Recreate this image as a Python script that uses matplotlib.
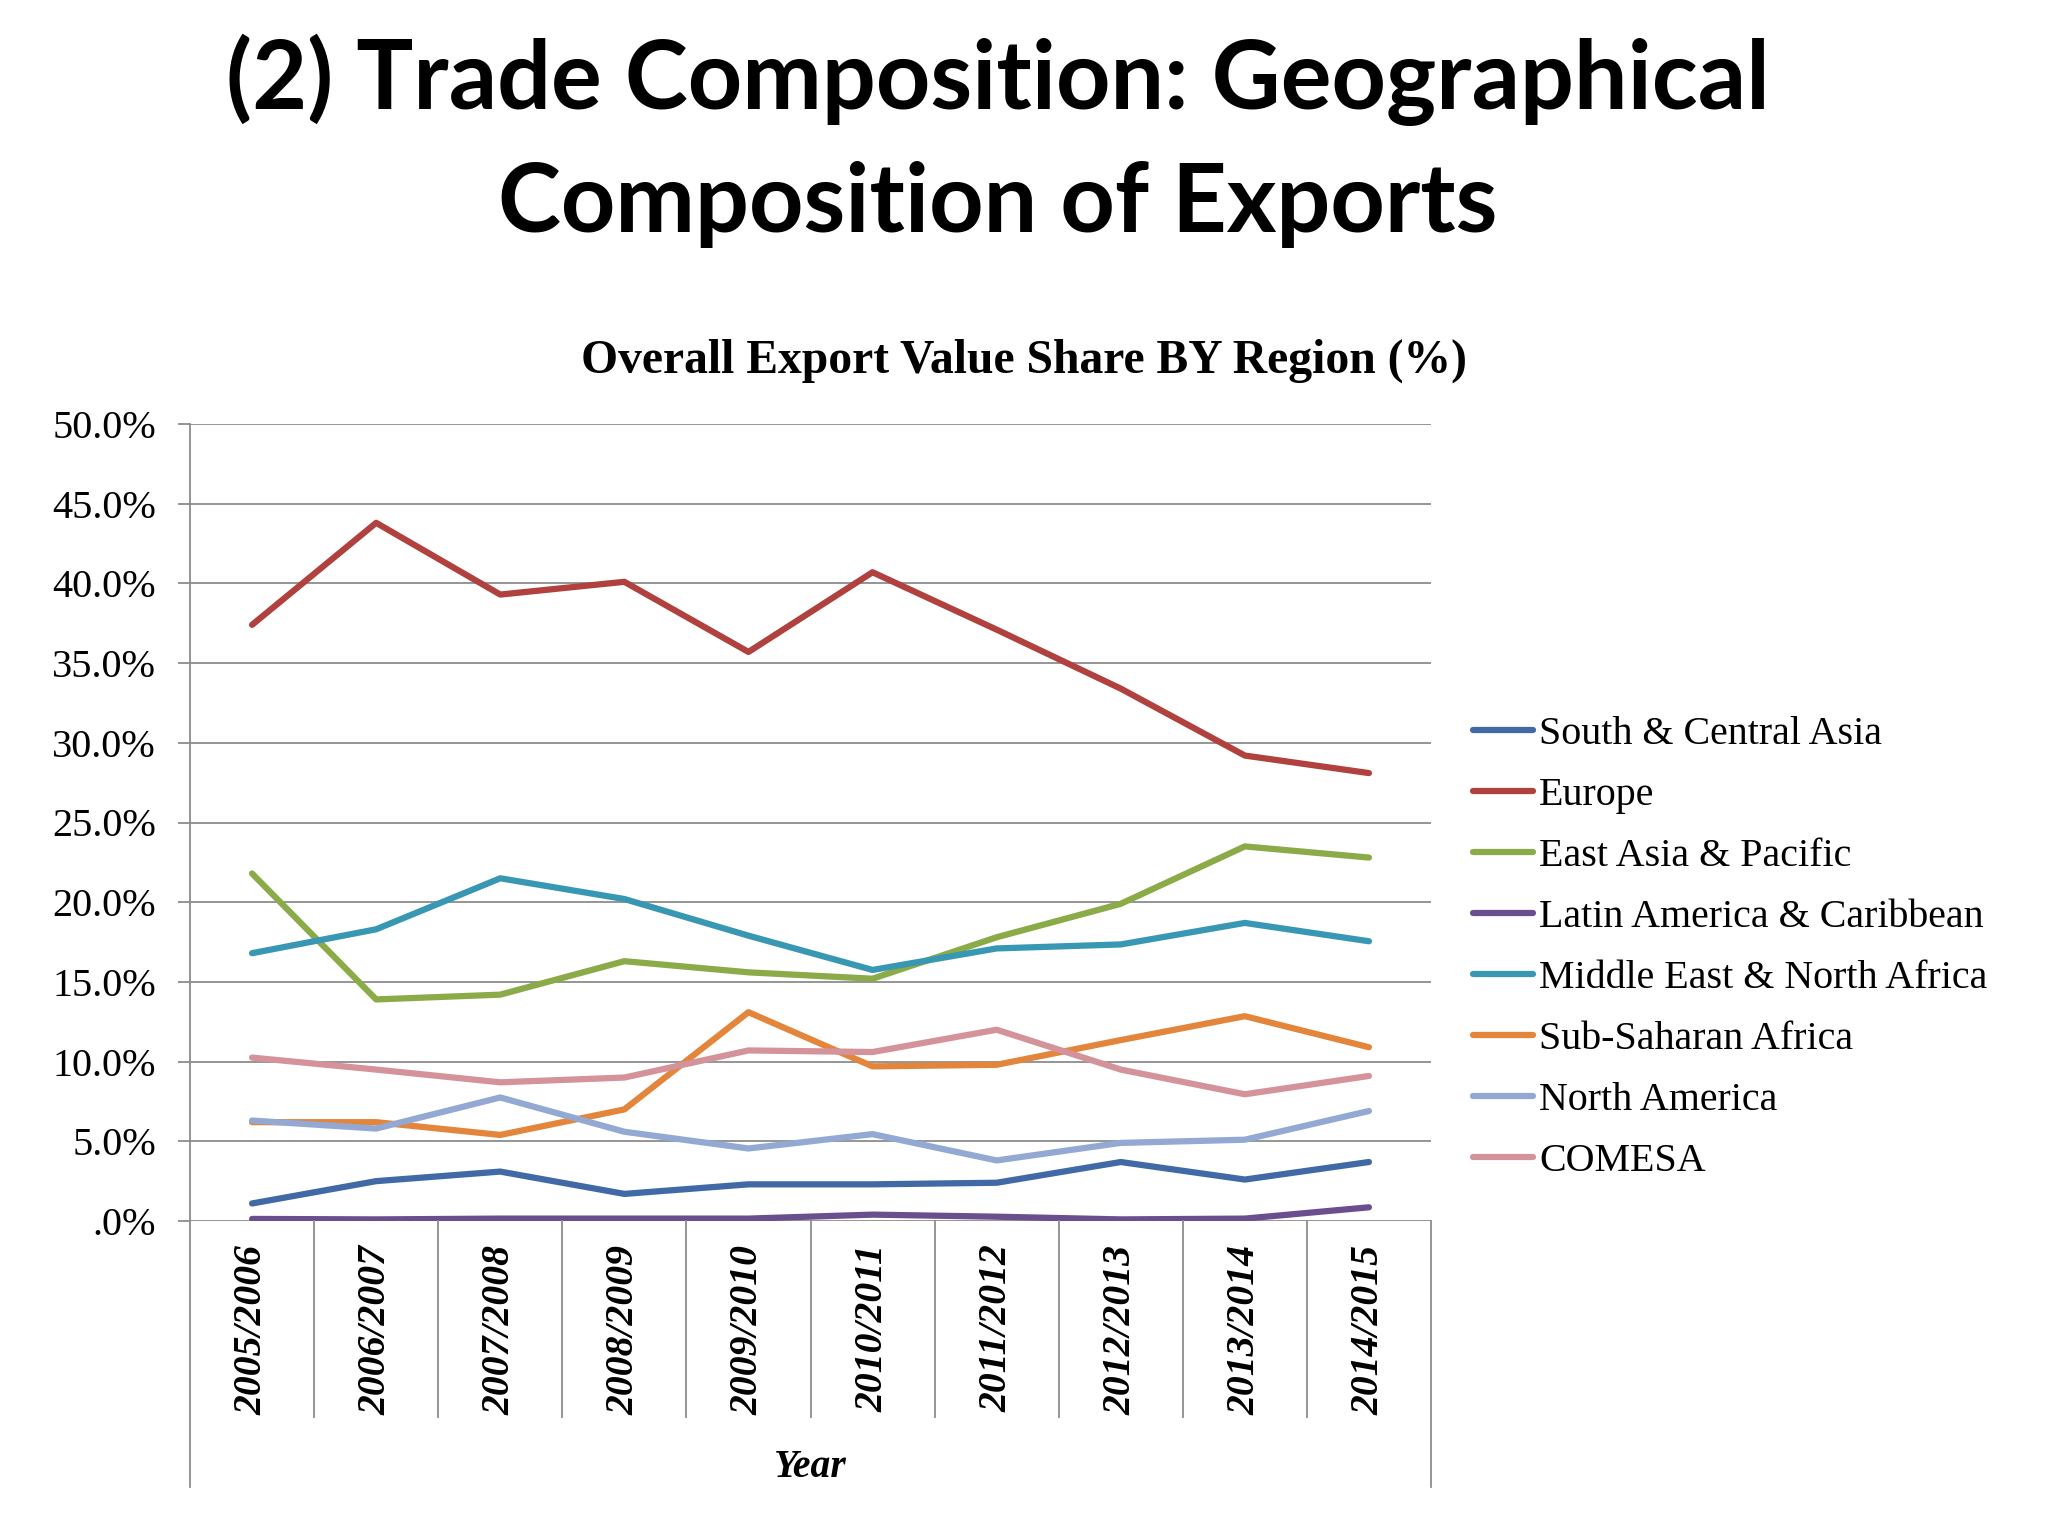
import matplotlib
matplotlib.use('Agg')
import matplotlib.pyplot as plt
from matplotlib.ticker import FuncFormatter

# values (percent share of export value)
years = ['2005/2006', '2006/2007', '2007/2008', '2008/2009', '2009/2010',
         '2010/2011', '2011/2012', '2012/2013', '2013/2014', '2014/2015']

south_central_asia = [1.1, 2.5, 3.1, 1.7, 2.3, 2.3, 2.4, 3.7, 2.6, 3.7]
europe = [37.4, 43.8, 39.3, 40.1, 35.7, 40.7, 37.1, 33.4, 29.2, 28.1]
east_asia_pacific = [21.8, 13.9, 14.2, 16.3, 15.6, 15.2, 17.8, 19.9, 23.5, 22.8]
latin_america = [0.13, 0.1, 0.15, 0.15, 0.15, 0.4, 0.27, 0.1, 0.15, 0.86]
middle_east_na = [16.8, 18.3, 21.5, 20.2, 17.9, 15.75, 17.1, 17.35, 18.7, 17.55]
sub_saharan = [6.2, 6.2, 5.4, 7.0, 13.1, 9.7, 9.8, 11.35, 12.85, 10.9]
north_america = [6.3, 5.8, 7.75, 5.6, 4.55, 5.45, 3.8, 4.9, 5.1, 6.9]
comesa = [10.25, 9.5, 8.7, 9.0, 10.7, 10.6, 12.0, 9.5, 7.95, 9.1]

series = [
    ('South & Central Asia', south_central_asia, '#4069a6'),
    ('Europe', europe, '#b0413e'),
    ('East Asia & Pacific', east_asia_pacific, '#8aab48'),
    ('Latin America & Caribbean', latin_america, '#6a4e8e'),
    ('Middle East & North Africa', middle_east_na, '#3897b3'),
    ('Sub-Saharan Africa', sub_saharan, '#e3853a'),
    ('North America', north_america, '#93a8d2'),
    ('COMESA', comesa, '#d4939a'),
]

W, H = 2048, 1536
serif = 'Liberation Serif'
grid_col = '#8c8c8c'
plt.rcParams['font.family'] = [serif, 'DejaVu Serif']

fig = plt.figure(figsize=(W / 100, H / 100), dpi=100)
ax = fig.add_axes([190 / W, 1 - 1221 / H, (1431 - 190) / W, (1221 - 424) / H])

x = list(range(len(years)))
for name, vals, col in series:
    ax.plot(x, vals, color=col, lw=4.5, label=name,
            solid_capstyle='round', solid_joinstyle='round')

ax.set_xlim(-0.5, len(years) - 0.5)
ax.set_ylim(0, 50)
ax.set_yticks(range(0, 51, 5))
ax.yaxis.set_major_formatter(FuncFormatter(
    lambda v, p: '.0%' if v == 0 else '{:.1f}%'.format(v)))
ax.yaxis.grid(True, color=grid_col, lw=1.3)
ax.set_axisbelow(True)
for s in ax.spines.values():
    s.set_visible(False)

ax.tick_params(axis='y', length=8.6, width=1.3, color=grid_col, pad=16,
               labelsize=29)
ax.set_xticks(x)
ax.set_xticklabels(years, rotation=90, fontsize=28.5, fontweight='bold',
                   fontstyle='italic')
ax.tick_params(axis='x', length=0, pad=17)

# excel style category frame below the axis
tr = ax.get_xaxis_transform()
ax.plot([-0.5, -0.5], [1, -0.334], transform=tr, color=grid_col, lw=1.3, clip_on=False)
ax.plot([9.5, 9.5], [0, -0.334], transform=tr, color=grid_col, lw=1.3, clip_on=False)
for b in range(len(years) - 1):
    ax.plot([b + 0.5, b + 0.5], [0, -0.246], transform=tr, color=grid_col,
            lw=1.3, clip_on=False)

ax.set_xlabel('Year', fontsize=28.5, fontweight='bold',
              fontstyle='italic', labelpad=25)

fig.text(1024 / W, 1 - 373 / H, 'Overall Export Value Share BY Region (%)',
         ha='center', va='baseline', fontsize=34.3, fontweight='bold')

leg = fig.legend(loc='upper left', bbox_to_anchor=(1473 / W, 1 - 716 / H),
                 frameon=False, prop={'size': 28.8},
                 handlelength=1.5, handletextpad=0.15, labelspacing=0.6,
                 borderpad=0, borderaxespad=0)

t1 = fig.text(998 / W, 1 - 109 / H, '(2) Trade Composition: Geographical',
              ha='center', va='baseline', family='Lato', fontweight='bold',
              fontsize=74)
t2 = fig.text(998 / W, 1 - 232 / H, 'Composition of Exports',
              ha='center', va='baseline', family='Lato', fontweight='bold',
              fontsize=74)

# scale the big heading to the width it has on the slide
fig.canvas.draw()
w1 = t1.get_window_extent().width
k = 1546 / w1
t1.set_fontsize(74 * k)
t2.set_fontsize(74 * k)

fig.savefig('out.png', dpi=100, facecolor='white')
